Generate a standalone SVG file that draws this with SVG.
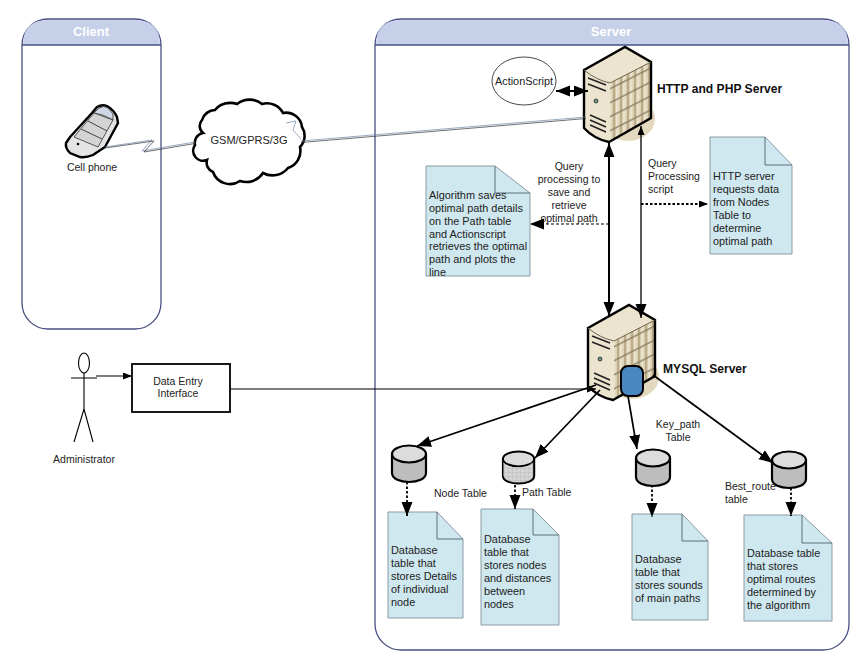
<svg xmlns="http://www.w3.org/2000/svg" width="858" height="652" viewBox="0 0 858 652">
<style>
text{font-family:"Liberation Sans",Arial,sans-serif;font-size:10.5px;fill:#222}
.c{text-anchor:middle}
.n{font-size:10.9px}
.b{font-weight:bold;font-size:12.1px;fill:#111}
.h{font-weight:bold;font-size:13px;fill:#fff;text-anchor:middle}
.panel{fill:#fff;stroke:#4a4f82;stroke-width:1.3}
.head{fill:#c6d0e8}
.note{fill:#cfe8ef;stroke:#8a9ba3;stroke-width:1}
.fold{fill:none;stroke:#5c6f78;stroke-width:1}
.l{fill:none;stroke:#000;stroke-width:1.7}
.d{fill:none;stroke:#000;stroke-width:1.8;stroke-dasharray:2.5 2}
.w{fill:none;stroke:#6f84ab;stroke-width:.7}
</style>
<defs>
<marker id="a" markerUnits="userSpaceOnUse" markerWidth="15" markerHeight="12" refX="14" refY="5.5" orient="auto-start-reverse"><path d="M0 0L14 5.5L0 11z" fill="#000"/></marker>
<marker id="s" markerUnits="userSpaceOnUse" markerWidth="10" markerHeight="8" refX="9" refY="3.5" orient="auto-start-reverse"><path d="M0 0L9 3.5L0 7z" fill="#000"/></marker>
<pattern id="grid" width="7" height="14" patternUnits="userSpaceOnUse" patternTransform="skewY(-27)"><rect width="7" height="14" fill="#e0d5b8"/><path d="M2 0V14" stroke="#b5a580" stroke-width="2"/><path d="M5 0V14" stroke="#f0e9d6" stroke-width="1.5"/><path d="M0 13H7" stroke="#85795d" stroke-width="1.4"/></pattern>
<pattern id="dots" width="4" height="4" patternUnits="userSpaceOnUse"><rect width="4" height="4" fill="#d5d5d5"/><path d="M0 0H4M0 0V4" stroke="#b0b0b0" stroke-width=".7"/></pattern>
<g id="srv">
<ellipse cx="44" cy="72" rx="27" ry="22" fill="#e3d9bf"/>
<path d="M0 23L41 0L67 15V71L25 95Q10 92 0 81z" fill="#ece4cf"/>
<path d="M26 36L67 15V71L26 94z" fill="url(#grid)"/>
<path d="M0 23L41 0L67 15V71L25 95Q10 92 0 81z" fill="none" stroke="#000" stroke-width="2.4"/>
<path d="M0 23Q12 33 26 36L67 15" fill="none" stroke="#6b6350" stroke-width="1"/>
<path d="M4 31L22 38M4 37L22 44M6 68L22 75M6 73L22 80M6 78L22 85" stroke="#222" stroke-width="1.5"/>
<circle cx="12" cy="54" r="2" fill="#6f9e86" stroke="#222" stroke-width=".8"/>
</g>
<g id="cyl">
<path d="M1 8V28C1 40 35 40 35 28V8z" fill="#bdbdbd"/>
<ellipse cx="18" cy="9" rx="17" ry="8.5" fill="#dcdcdc"/>
<path d="M1 9V28C1 40 35 40 35 28V9" fill="none" stroke="#000" stroke-width="2.2"/>
<ellipse cx="18" cy="9" rx="17" ry="8.5" fill="none" stroke="#000" stroke-width="2.2"/>
</g>
</defs>

<g id="client">
<rect class="panel" x="22" y="19" width="139" height="310" rx="26"/>
<path class="head" d="M23 45Q23 20 48 20H135Q160 20 160 45z"/>
<path d="M22 45H161" stroke="#4a4f82" stroke-width="1.3"/>
<text class="h" x="91" y="36">Client</text>
</g>
<g id="server">
<rect class="panel" x="375" y="19" width="474" height="631" rx="26"/>
<path class="head" d="M376 45Q376 20 401 20H823Q848 20 848 45z"/>
<path d="M375 45H849" stroke="#4a4f82" stroke-width="1.3"/>
<text class="h" x="611" y="36">Server</text>
</g>

<g id="phone">
<path d="M70 137L92 113L97 107Q102 104 107 106Q114 110 117 117L118 123L105 147L93 155Q86 158 80 157L70 153Q65 148 66 143z" fill="#e4e4e4" stroke="#000" stroke-width="2.4"/>
<path d="M94 113L99 108Q104 105 108 108L113 114L113 120Q103 114 94 113z" fill="#cfd6e6" stroke="#333" stroke-width=".8"/>
<path d="M94 113L113 120L98 147L74 137z" fill="#d4d4d4" stroke="#333" stroke-width=".8"/>
<path d="M88 121L107 131M81 129L102 139" stroke="#444" stroke-width="1"/>
<circle cx="78" cy="144" r="1.3" fill="#000"/>
<text class="c" x="92" y="171">Cell phone</text>
</g>
<g id="cloud">
<path d="M202 120A14 14 0 0 1 215 110A20 20 0 0 1 237 104A20 20 0 0 1 262 104A18 18 0 0 1 283 113A16 16 0 0 1 302 127A16 16 0 0 1 300 147A18 18 0 0 1 288 168A20 20 0 0 1 263 173A20 20 0 0 1 240 181A18 18 0 0 1 213 172A10 10 0 0 1 207 160A10 10 0 0 1 195 145A10 10 0 0 1 203 133A9 9 0 0 1 202 120z" fill="#fff" stroke="#000" stroke-width="2.6"/>
<text class="c" x="249" y="144" style="font-size:11px">GSM/GPRS/3G</text>
</g>
<g id="actionscript">
<ellipse cx="524" cy="81" rx="32" ry="24" fill="#fff" stroke="#333" stroke-width=".9"/>
<text class="c" x="524" y="85" style="font-size:10.9px">ActionScript</text>
</g>
<g id="http-server">
<use href="#srv" x="584" y="47"/>
<text class="b" x="657" y="93">HTTP and PHP Server</text>
</g>
<g id="mysql-server">
<use href="#srv" x="588" y="305"/>
<rect x="621" y="366" width="22" height="30" rx="7" fill="#4a86c0" stroke="#000" stroke-width="2"/>
<text class="b" x="663" y="373">MYSQL Server</text>
</g>
<g id="administrator" fill="none" stroke="#000" stroke-width="1.1">
<ellipse cx="84" cy="363" rx="5.5" ry="10" fill="#fff"/>
<path d="M84 373V409M71 378H97M84 409L74 442M84 409L93 442"/>
<text class="c" x="84" y="463" stroke="none">Administrator</text>
</g>
<g id="data-entry">
<rect x="132" y="364" width="98" height="48" fill="#fff" stroke="#000" stroke-width="1.8"/>
<text class="c" x="178" y="385">Data Entry</text>
<text class="c" x="178" y="397">Interface</text>
</g>
<g id="q1"><text class="c"><tspan x="569" y="170">Query</tspan><tspan x="569" y="183">processing to</tspan><tspan x="569" y="196">save and</tspan><tspan x="569" y="209">retrieve</tspan><tspan x="569" y="222">optimal path</tspan></text></g>
<g id="q2"><text><tspan x="648" y="167">Query</tspan><tspan x="648" y="180">Processing</tspan><tspan x="648" y="193">script</tspan></text></g>

<g id="note-algorithm">
<path class="note" d="M426 166H495L530 193V276H426z"/><path class="fold" d="M495 166V193H530"/>
<text class="n"><tspan x="429" y="199">Algorithm saves</tspan><tspan x="429" y="212">optimal path details</tspan><tspan x="429" y="225">on the Path table</tspan><tspan x="429" y="238">and Actionscript</tspan><tspan x="429" y="250">retrieves the optimal</tspan><tspan x="429" y="263">path and plots the</tspan><tspan x="429" y="276">line</tspan></text>
</g>
<g id="note-http">
<path class="note" d="M710 137H765L792 165V254H710z"/><path class="fold" d="M765 137V165H792"/>
<text class="n"><tspan x="713" y="180">HTTP server</tspan><tspan x="713" y="193">requests data</tspan><tspan x="713" y="206">from Nodes</tspan><tspan x="713" y="219">Table to</tspan><tspan x="713" y="232">determine</tspan><tspan x="713" y="245">optimal path</tspan></text>
</g>
<g id="node-table">
<use href="#cyl" x="391" y="445"/>
<text x="434" y="497">Node Table</text>
<path class="note" d="M388 512H437L463 539V618H388z"/><path class="fold" d="M437 512V539H463"/>
<text class="n"><tspan x="391" y="554">Database</tspan><tspan x="391" y="567">table that</tspan><tspan x="391" y="580">stores Details</tspan><tspan x="391" y="593">of individual</tspan><tspan x="391" y="606">node</tspan></text>
</g>
<g id="path-table">
<use href="#cyl" transform="translate(502 451) scale(.92 .88)"/>
<path d="M503.5 462C506 469 530 469 532.500 462V476C530 484 506 484 503.500 476z" fill="url(#dots)"/>
<text x="522" y="496">Path Table</text>
<path class="note" d="M481 509H533L559 535V625H481z"/><path class="fold" d="M533 509V535H559"/>
<text class="n"><tspan x="484" y="543">Database</tspan><tspan x="484" y="556">table that</tspan><tspan x="484" y="569">stores nodes</tspan><tspan x="484" y="582">and distances</tspan><tspan x="484" y="595">between</tspan><tspan x="484" y="608">nodes</tspan></text>
</g>
<g id="key-path">
<use href="#cyl" x="635" y="449"/>
<text class="c" x="678" y="428">Key_path</text><text class="c" x="678" y="441">Table</text>
<path class="note" d="M632 514H682L708 541V620H632z"/><path class="fold" d="M682 514V541H708"/>
<text class="n"><tspan x="635" y="563">Database</tspan><tspan x="635" y="576">table that</tspan><tspan x="635" y="589">stores sounds</tspan><tspan x="635" y="602">of main paths</tspan></text>
</g>
<g id="best-route">
<use href="#cyl" x="771" y="451"/>
<text x="725" y="490">Best_route</text><text x="725" y="503">table</text>
<path class="note" d="M744 515H802L832 543V621H744z"/><path class="fold" d="M802 515V543H832"/>
<text class="n"><tspan x="747" y="557">Database table</tspan><tspan x="747" y="570">that stores</tspan><tspan x="747" y="583">optimal routes</tspan><tspan x="747" y="596">determined by</tspan><tspan x="747" y="609">the algorithm</tspan></text>
</g>

<g id="connectors">
<path class="w" d="M105 147L152 140L142 151L195 142"/>
<path class="w" style="stroke:#333" d="M105 148L154 141L144 152L195 143.5"/>
<path class="w" d="M301 141L586 117"/>
<path class="w" style="stroke:#333" d="M301 142.500L586 118.500"/>
<path class="w" d="M286 123L296 121L293 130L301 139"/>
<path class="l" style="stroke-width:2" d="M556 91H588" marker-start="url(#a)" marker-end="url(#a)"/>
<path class="l" style="stroke-width:2" d="M609 143V316" marker-start="url(#a)" marker-end="url(#a)"/>
<path class="l" style="stroke-width:1.3" d="M641 126V318" marker-start="url(#s)" marker-end="url(#a)"/>
<path class="d" style="stroke-width:1.2;stroke-dasharray:3 2" d="M609 224H530" marker-end="url(#a)"/>
<path class="d" d="M641 204H708" marker-end="url(#s)"/>
<path class="l" style="stroke-width:1.2" d="M96 376H132" marker-end="url(#s)"/>
<path class="l" style="stroke-width:1.2" d="M230 389H596" marker-end="url(#s)"/>
<path class="l" d="M596 385L417 446" marker-end="url(#a)"/>
<path class="l" d="M600 390L535 458" marker-end="url(#a)"/>
<path class="l" d="M628 396L637 449" marker-end="url(#a)"/>
<path class="l" d="M653 375L773 463" marker-end="url(#a)"/>
<path class="d" d="M407 482V516" marker-end="url(#a)"/>
<path class="d" d="M515 485V509" marker-end="url(#a)"/>
<path class="d" d="M652 485V517" marker-end="url(#a)"/>
<path class="d" d="M791 488V516" marker-end="url(#a)"/>
</g>
</svg>
